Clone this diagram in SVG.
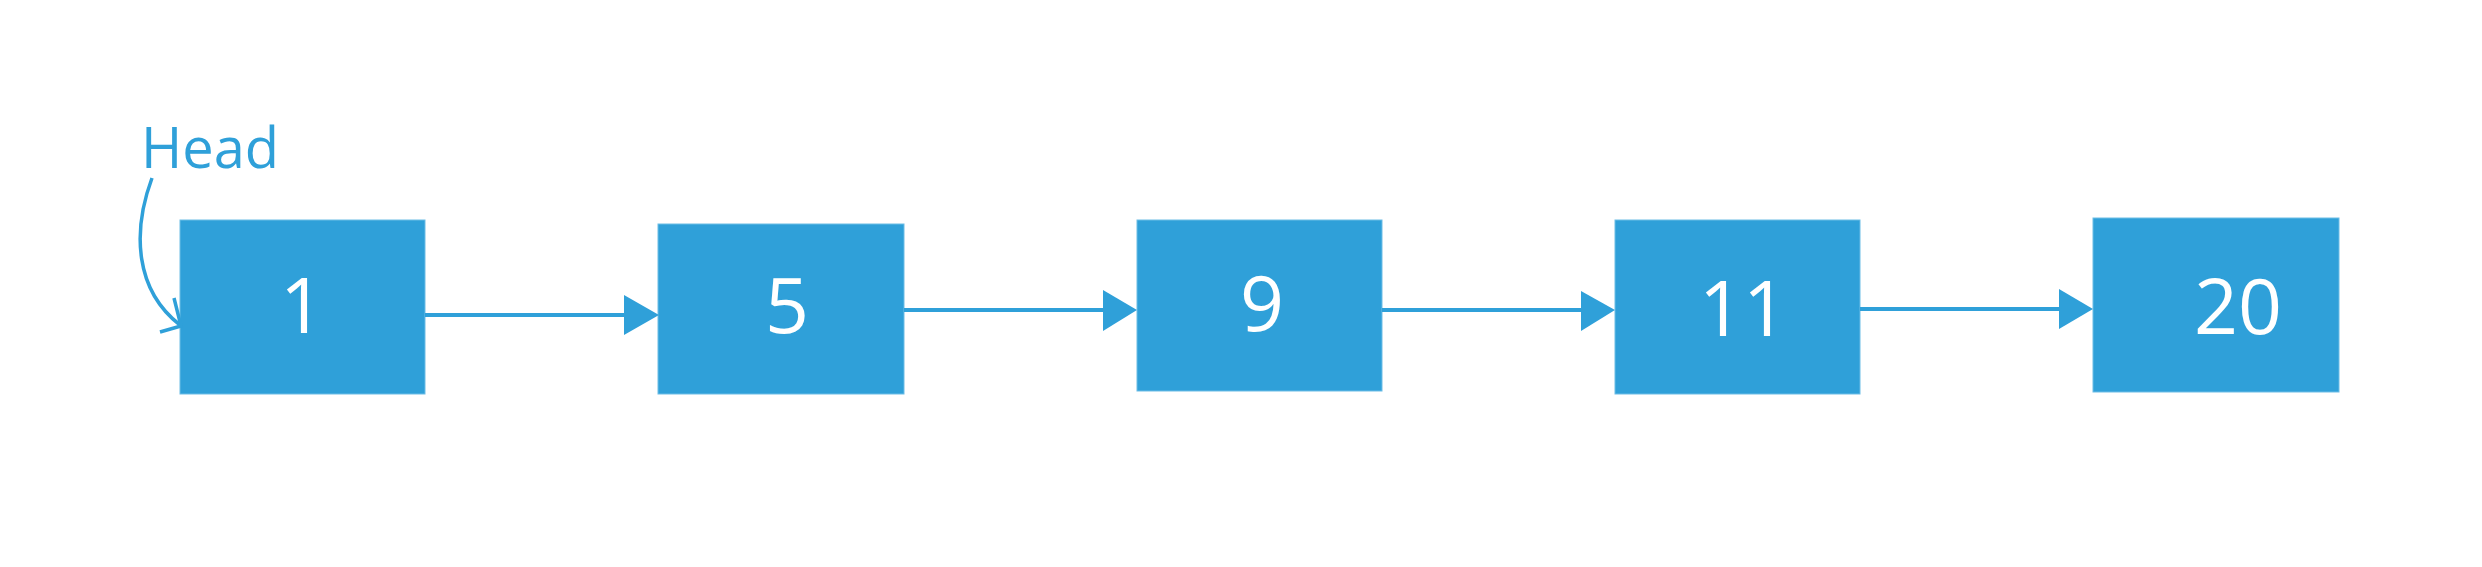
<svg xmlns="http://www.w3.org/2000/svg" width="2482" height="567" viewBox="0 0 2482 567">
<style>
.node rect{fill:#2fa0d9;stroke:#6cbde6;stroke-width:1}
.node text{fill:#ffffff;font-family:"Open Sans","Liberation Sans",sans-serif;font-size:77px;text-anchor:middle}
.conn line{stroke:#2fa0d9;stroke-width:4}
.conn polygon{fill:#2fa0d9}
.head{fill:#2fa0d9;font-family:"Open Sans","Liberation Sans",sans-serif;font-size:56px}
.curve{fill:none;stroke:#2fa0d9;stroke-width:3.5}
</style>
<rect width="2482" height="567" fill="#ffffff"/>
<g id="head">
<text class="head" x="141" y="168">Head</text>
</g>
<g id="node1" class="node"><rect x="180" y="220" width="245" height="174"/><text x="302" y="333">1</text></g>
<g id="node2" class="node"><rect x="658" y="224" width="246" height="170"/><text x="787" y="333">5</text></g>
<g id="node3" class="node"><rect x="1137" y="220" width="245" height="171"/><text x="1262" y="331">9</text></g>
<g id="node4" class="node"><rect x="1615" y="220" width="245" height="174"/><text x="1743" y="336">11</text></g>
<g id="node5" class="node"><rect x="2093" y="218" width="246" height="174"/><text x="2238" y="334">20</text></g>
<g id="connectors" class="conn">
<path class="curve" d="M152,178 C132,232 135,290 180,325"/>
<polyline class="curve" points="174,298 181,326 160,332"/>
<line x1="425" y1="315" x2="626" y2="315"/><polygon points="624,295 659,315 624,335"/>
<line x1="904" y1="310" x2="1105" y2="310"/><polygon points="1103,290 1137,310 1103,331"/>
<line x1="1382" y1="310" x2="1583" y2="310"/><polygon points="1581,291 1615,310 1581,331"/>
<line x1="1860" y1="309" x2="2061" y2="309"/><polygon points="2059,289 2093,309 2059,329"/>
</g>
</svg>
